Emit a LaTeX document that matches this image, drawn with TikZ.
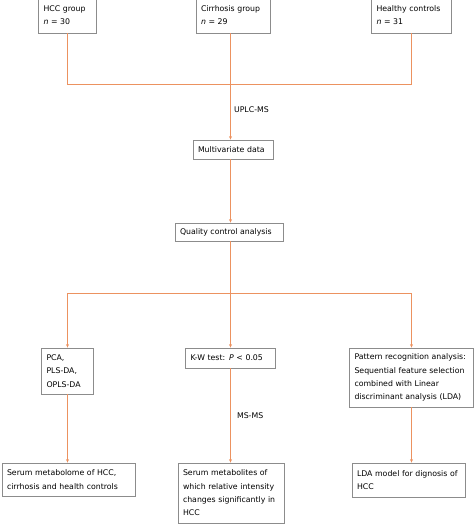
\documentclass[tikz,border=0pt]{standalone}
\usepackage{fontspec}
\setmainfont{DejaVu Sans}
\usetikzlibrary{arrows.meta,shadows}
\definecolor{lineor}{RGB}{236,146,96}
\definecolor{boxgray}{RGB}{140,140,140}
\begin{document}
\begin{tikzpicture}[x=1pt,y=1pt,
  box/.style={draw=boxgray, line width=0.8pt, fill=white, align=left,
    inner xsep=5pt, inner ysep=0pt,
    font=\fontsize{7.8}{13.3}\selectfont,
    drop shadow={shadow xshift=0.7pt, shadow yshift=-0.7pt, fill=black!30, opacity=1}},
  conn/.style={draw=lineor, line width=1.1pt},
  arr/.style={conn, -{Stealth[length=3.5pt,width=3pt]}},
  lab/.style={font=\fontsize{7.8}{13.3}\selectfont, anchor=west, inner sep=0pt}]
\useasboundingbox (0,0) rectangle (474,-524);

% top boxes
\node[box, minimum width=58pt, minimum height=36pt, text width=48pt] (hcc) at (67.5,-15) {HCC group\\\textit{n} = 30};
\node[box, minimum width=74pt, minimum height=36pt, text width=64pt] (cir) at (233,-15) {Cirrhosis group\\\textit{n} = 29};
\node[box, minimum width=80pt, minimum height=36pt, text width=70pt] (hea) at (411.5,-15) {Healthy controls\\\textit{n} = 31};

\node[box, minimum width=80pt, minimum height=19pt, text width=70pt] (multi) at (233,-149.5) {Multivariate data};
\node[box, minimum width=108pt, minimum height=18pt, text width=98pt] (qc) at (229,-232) {Quality control analysis};

\node[box, minimum width=52pt, minimum height=46pt, text width=42pt] (pca) at (67.5,-371) {PCA,\\PLS-DA,\\OPLS-DA};
\node[box, minimum width=90pt, minimum height=20pt, text width=80pt] (kw) at (230.5,-358) {K-W test: \textit{P} {\textless} 0.05};
\node[box, minimum width=124pt, minimum height=59pt, text width=114pt] (pat) at (411.5,-377.5) {Pattern recognition analysis:\\Sequential feature selection\\combined with Linear\\discriminant analysis (LDA)};

\node[box, minimum width=133pt, minimum height=33pt, text width=123pt] (met) at (68.5,-479.5) {Serum metabolome of HCC,\\cirrhosis and health controls};
\node[box, minimum width=106pt, minimum height=60pt, text width=96pt] (sig) at (231,-493) {Serum metabolites of\\which relative intensity\\changes significantly in\\HCC};
\node[box, minimum width=113pt, minimum height=34pt, text width=103pt] (lda) at (408.5,-480) {LDA model for dignosis of\\HCC};

% junctions
\coordinate (j1) at (230.5,-84.5);
\coordinate (j2) at (230.5,-293.5);

% top merge
\draw[conn] (hcc.south) |- (j1) -| (hea.south);
\draw[conn] (cir.south -| j1) -- (j1);
\draw[arr] (j1) -- node[lab, pos=0.45, xshift=3pt] (uplc) {UPLC-MS} (multi.north -| j1);
\draw[arr] (multi.south -| j1) -- (qc.north -| j1);
\draw[conn] (qc.south -| j1) -- (j2);
\draw[arr] (j2) -| (pca.north);
\draw[arr] (j2) -- (kw.north -| j2);
\draw[arr] (j2) -| (pat.north);

\draw[arr] (pca.south) -- (met.north -| pca.south);
\draw[arr] (kw.south) -- node[lab, pos=0.5, xshift=6pt] (msms) {MS-MS} (sig.north -| kw.south);
\draw[arr] (pat.south) -- (lda.north -| pat.south);
\end{tikzpicture}
\end{document}
